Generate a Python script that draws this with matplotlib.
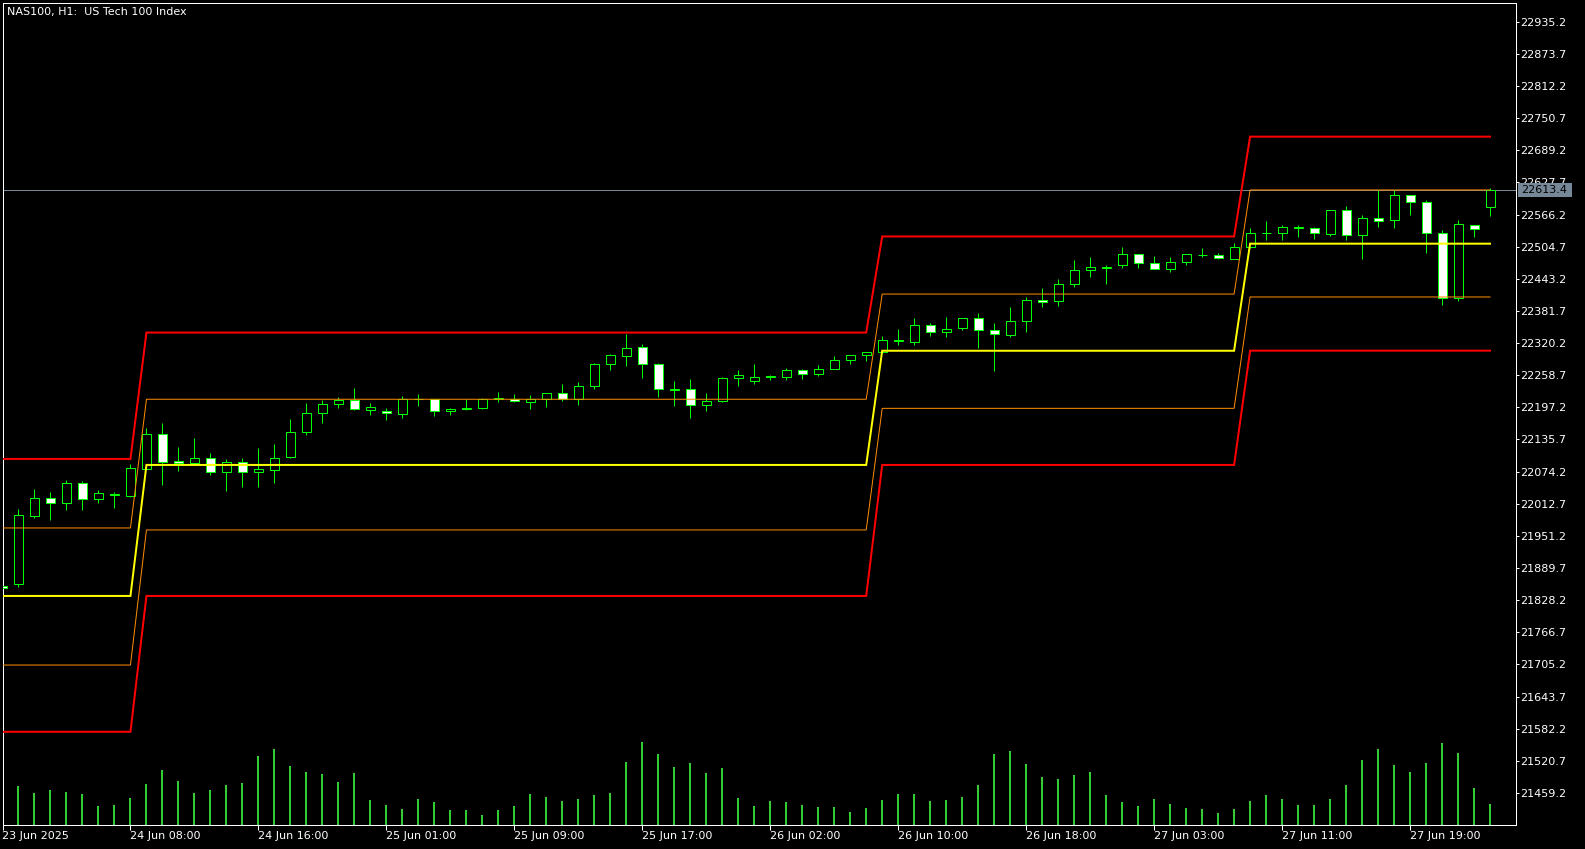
import numpy as np
import matplotlib
matplotlib.use("Agg")
import matplotlib.pyplot as plt
from matplotlib.patches import Rectangle
from matplotlib.transforms import IdentityTransform

W, H, DPI = 1585, 849, 100

title = "NAS100, H1:  US Tech 100 Index"

opens = [21855, 21860, 21990, 22023, 22014, 22052, 22021, 22029, 22028, 22080,
         22146, 22095, 22090, 22100, 22073, 22092, 22073, 22077, 22102, 22150,
         22186, 22203, 22212, 22192, 22190, 22185, 22213, 22213, 22190, 22194,
         22195, 22214, 22214, 22208, 22213, 22224, 22214, 22239, 22280, 22296,
         22312, 22281, 22231, 22232, 22201, 22209, 22253, 22248, 22255, 22256,
         22268, 22261, 22270, 22288, 22297, 22303, 22325, 22323, 22354, 22342,
         22349, 22369, 22345, 22335, 22362, 22402, 22400, 22433, 22460, 22463,
         22470, 22490, 22473, 22461, 22475, 22488, 22488, 22482, 22504, 22530,
         22530, 22540, 22540, 22528, 22574, 22527, 22559, 22555, 22603, 22590,
         22530, 22406, 22546, 22580]
highs = [21857, 22002, 22041, 22035, 22058, 22056, 22039, 22035, 22089, 22157,
         22167, 22121, 22138, 22109, 22098, 22100, 22119, 22127, 22175, 22206,
         22211, 22217, 22234, 22206, 22196, 22219, 22223, 22213, 22196, 22213,
         22216, 22227, 22223, 22221, 22224, 22242, 22246, 22282, 22299, 22337,
         22318, 22283, 22248, 22251, 22225, 22255, 22269, 22280, 22260, 22273,
         22270, 22278, 22296, 22297, 22303, 22334, 22348, 22368, 22358, 22371,
         22369, 22377, 22358, 22389, 22408, 22425, 22442, 22479, 22484, 22469,
         22504, 22490, 22487, 22484, 22490, 22502, 22492, 22512, 22540, 22554,
         22546, 22547, 22542, 22574, 22583, 22565, 22613, 22614, 22603, 22594,
         22536, 22556, 22546, 22616]
lows = [21850, 21853, 21986, 21982, 22000, 22001, 22015, 22005, 22026, 22079,
        22049, 22076, 22089, 22067, 22038, 22045, 22045, 22053, 22101, 22144,
        22167, 22195, 22193, 22182, 22173, 22177, 22199, 22181, 22183, 22193,
        22194, 22207, 22207, 22194, 22197, 22210, 22202, 22232, 22269, 22276,
        22254, 22217, 22199, 22177, 22191, 22208, 22239, 22242, 22249, 22250,
        22252, 22258, 22270, 22281, 22285, 22302, 22316, 22317, 22334, 22332,
        22346, 22311, 22266, 22331, 22342, 22389, 22391, 22427, 22446, 22433,
        22464, 22464, 22461, 22457, 22470, 22484, 22482, 22481, 22503, 22517,
        22517, 22524, 22519, 22526, 22517, 22482, 22543, 22541, 22565, 22492,
        22394, 22400, 22523, 22563]
closes = [21852, 21991, 22023, 22014, 22052, 22021, 22033, 22031, 22081, 22146,
          22093, 22090, 22100, 22073, 22092, 22073, 22079, 22100, 22150, 22186,
          22203, 22212, 22194, 22197, 22186, 22213, 22214, 22190, 22194, 22195,
          22214, 22216, 22209, 22213, 22224, 22214, 22238, 22280, 22297, 22310,
          22281, 22233, 22233, 22201, 22209, 22253, 22259, 22255, 22257, 22268,
          22261, 22270, 22288, 22297, 22303, 22326, 22326, 22354, 22342, 22348,
          22369, 22346, 22337, 22362, 22402, 22398, 22433, 22460, 22465, 22465,
          22490, 22473, 22461, 22475, 22490, 22489, 22483, 22504, 22530, 22531,
          22542, 22542, 22530, 22574, 22527, 22559, 22553, 22603, 22590, 22530,
          22406, 22548, 22538, 22613.4]
volumes = [300, 393, 323, 353, 333, 313, 193, 203, 273, 413,
           553, 443, 323, 353, 403, 423, 693, 763, 593, 533,
           513, 433, 523, 253, 203, 163, 263, 233, 153, 153,
           103, 153, 193, 313, 283, 243, 263, 303, 323, 633,
           833, 713, 583, 623, 523, 573, 273, 193, 243, 233,
           203, 183, 183, 133, 173, 253, 313, 313, 243, 253,
           283, 403, 713, 743, 613, 483, 463, 503, 533, 303,
           233, 193, 263, 213, 173, 163, 123, 163, 243, 303,
           263, 203, 203, 263, 403, 653, 763, 603, 533, 623,
           823, 723, 373, 213]

# daily pivot levels (first bar index of each period)
seg_starts = [0, 9, 55, 78]
pivot_r2 = [22098.5, 22340.3, 22524.2, 22715.2]
pivot_r1 = [21966.4, 22212.7, 22414.0, 22613.2]
pivot_p = [21836.3, 22087.0, 22305.5, 22510.4]
pivot_s1 = [21704.1, 21962.6, 22195.3, 22408.4]
pivot_s2 = [21576.4, 21836.3, 22087.0, 22305.7]

time_tick_idx = [0, 8, 16, 24, 32, 40, 48, 56, 64, 72, 80, 88]
time_tick_labels = ["23 Jun 2025", "24 Jun 08:00", "24 Jun 16:00", "25 Jun 01:00",
                    "25 Jun 09:00", "25 Jun 17:00", "26 Jun 02:00", "26 Jun 10:00",
                    "26 Jun 18:00", "27 Jun 03:00", "27 Jun 11:00", "27 Jun 19:00"]
price_tick_start, price_tick_step, price_tick_count = 21459.2, 61.5, 25

PX = 72.0 / DPI  # points per pixel

fig = plt.figure(figsize=(W / DPI, H / DPI), dpi=DPI, facecolor="black")
ax_l, ax_r, ax_t, ax_b = 2.5, 1515.5, 2.5, 825.0
rect = [ax_l / W, (H - ax_b) / H, (ax_r - ax_l) / W, (ax_b - ax_t) / H]
ax2 = fig.add_axes(rect)
ax = fig.add_axes(rect, sharex=ax2)
ax2.set_zorder(0)
ax.set_zorder(1)
ax.patch.set_visible(False)
ax2.set_facecolor("black")

n = len(opens)
x = np.arange(n)

# x scale: 16 px per bar, bar 0 at pixel 2
ax.set_xlim((ax_l - 2) / 16.0, (ax_r - 2) / 16.0)
ax.set_ylim(21398.0, 22971.9)

# volumes (background)
ax2.vlines(x, 0, volumes, colors="#32cd32", linewidth=2 * PX)
ax2.set_ylim(0, (ax_b - ax_t) * 10)
ax2.set_yticks([])
ax2.tick_params(axis="x", which="both", bottom=False, labelbottom=False)
for s in ax2.spines.values():
    s.set_visible(False)

# candles
ax.vlines(x, lows, highs, colors="#00ff00", linewidth=1 * PX, zorder=2)
bw = 9 / 16.0
for i in range(n):
    o, c = opens[i], closes[i]
    bull = c >= o
    ax.add_patch(Rectangle((i - bw / 2, min(o, c)), bw, abs(c - o),
                           facecolor="black" if bull else "white",
                           edgecolor="#00ff00", linewidth=1 * PX, zorder=3))

# pivot lines
seg = np.searchsorted(seg_starts, x, side="right") - 1
for vals, col, lw in [(pivot_r2, "#ff0000", 2), (pivot_s2, "#ff0000", 2),
                      (pivot_r1, "#ff8c00", 1), (pivot_s1, "#ff8c00", 1),
                      (pivot_p, "#ffff00", 2)]:
    ax.plot(x, np.asarray(vals)[seg], color=col, linewidth=lw * PX, zorder=4,
            solid_joinstyle="miter")

# bid line
last = closes[-1]
ax.axhline(last, color="#778899", linewidth=1 * PX, zorder=1.5)

# axes styling
for s in ax.spines.values():
    s.set_color("white")
    s.set_linewidth(1 * PX)
ax.yaxis.tick_right()
ticks = [price_tick_start + price_tick_step * k for k in range(price_tick_count)]
ax.set_yticks(ticks)
ax.set_yticklabels([f"{t:.1f}" for t in ticks])
ax.tick_params(axis="y", direction="out", length=3 * PX, width=1 * PX,
               colors="white", labelsize=8, pad=1.2)
ax.set_xticks(time_tick_idx)
ax.set_xticklabels(time_tick_labels)
ax.tick_params(axis="x", direction="out", length=5 * PX, width=1 * PX,
               colors="white", labelsize=8, pad=0.5)
for lab in ax.get_xticklabels():
    lab.set_horizontalalignment("left")

# title
fig.text(7 / W, 1 - 12 / H, title, color="white", fontsize=8,
         ha="left", va="center")

# current price label box (display coords)
fig.canvas.draw()
y_disp = ax.transData.transform((0, last))[1]
box = Rectangle((1518, y_disp - 7), 54, 14, transform=IdentityTransform(),
                facecolor="#778899", edgecolor="none", zorder=10)
fig.add_artist(box)
fig.text(1521, y_disp, f"{last:.1f}", transform=IdentityTransform(),
         color="black", fontsize=8, ha="left", va="center", zorder=11)

fig.savefig("out.png", dpi=DPI, facecolor="black")
